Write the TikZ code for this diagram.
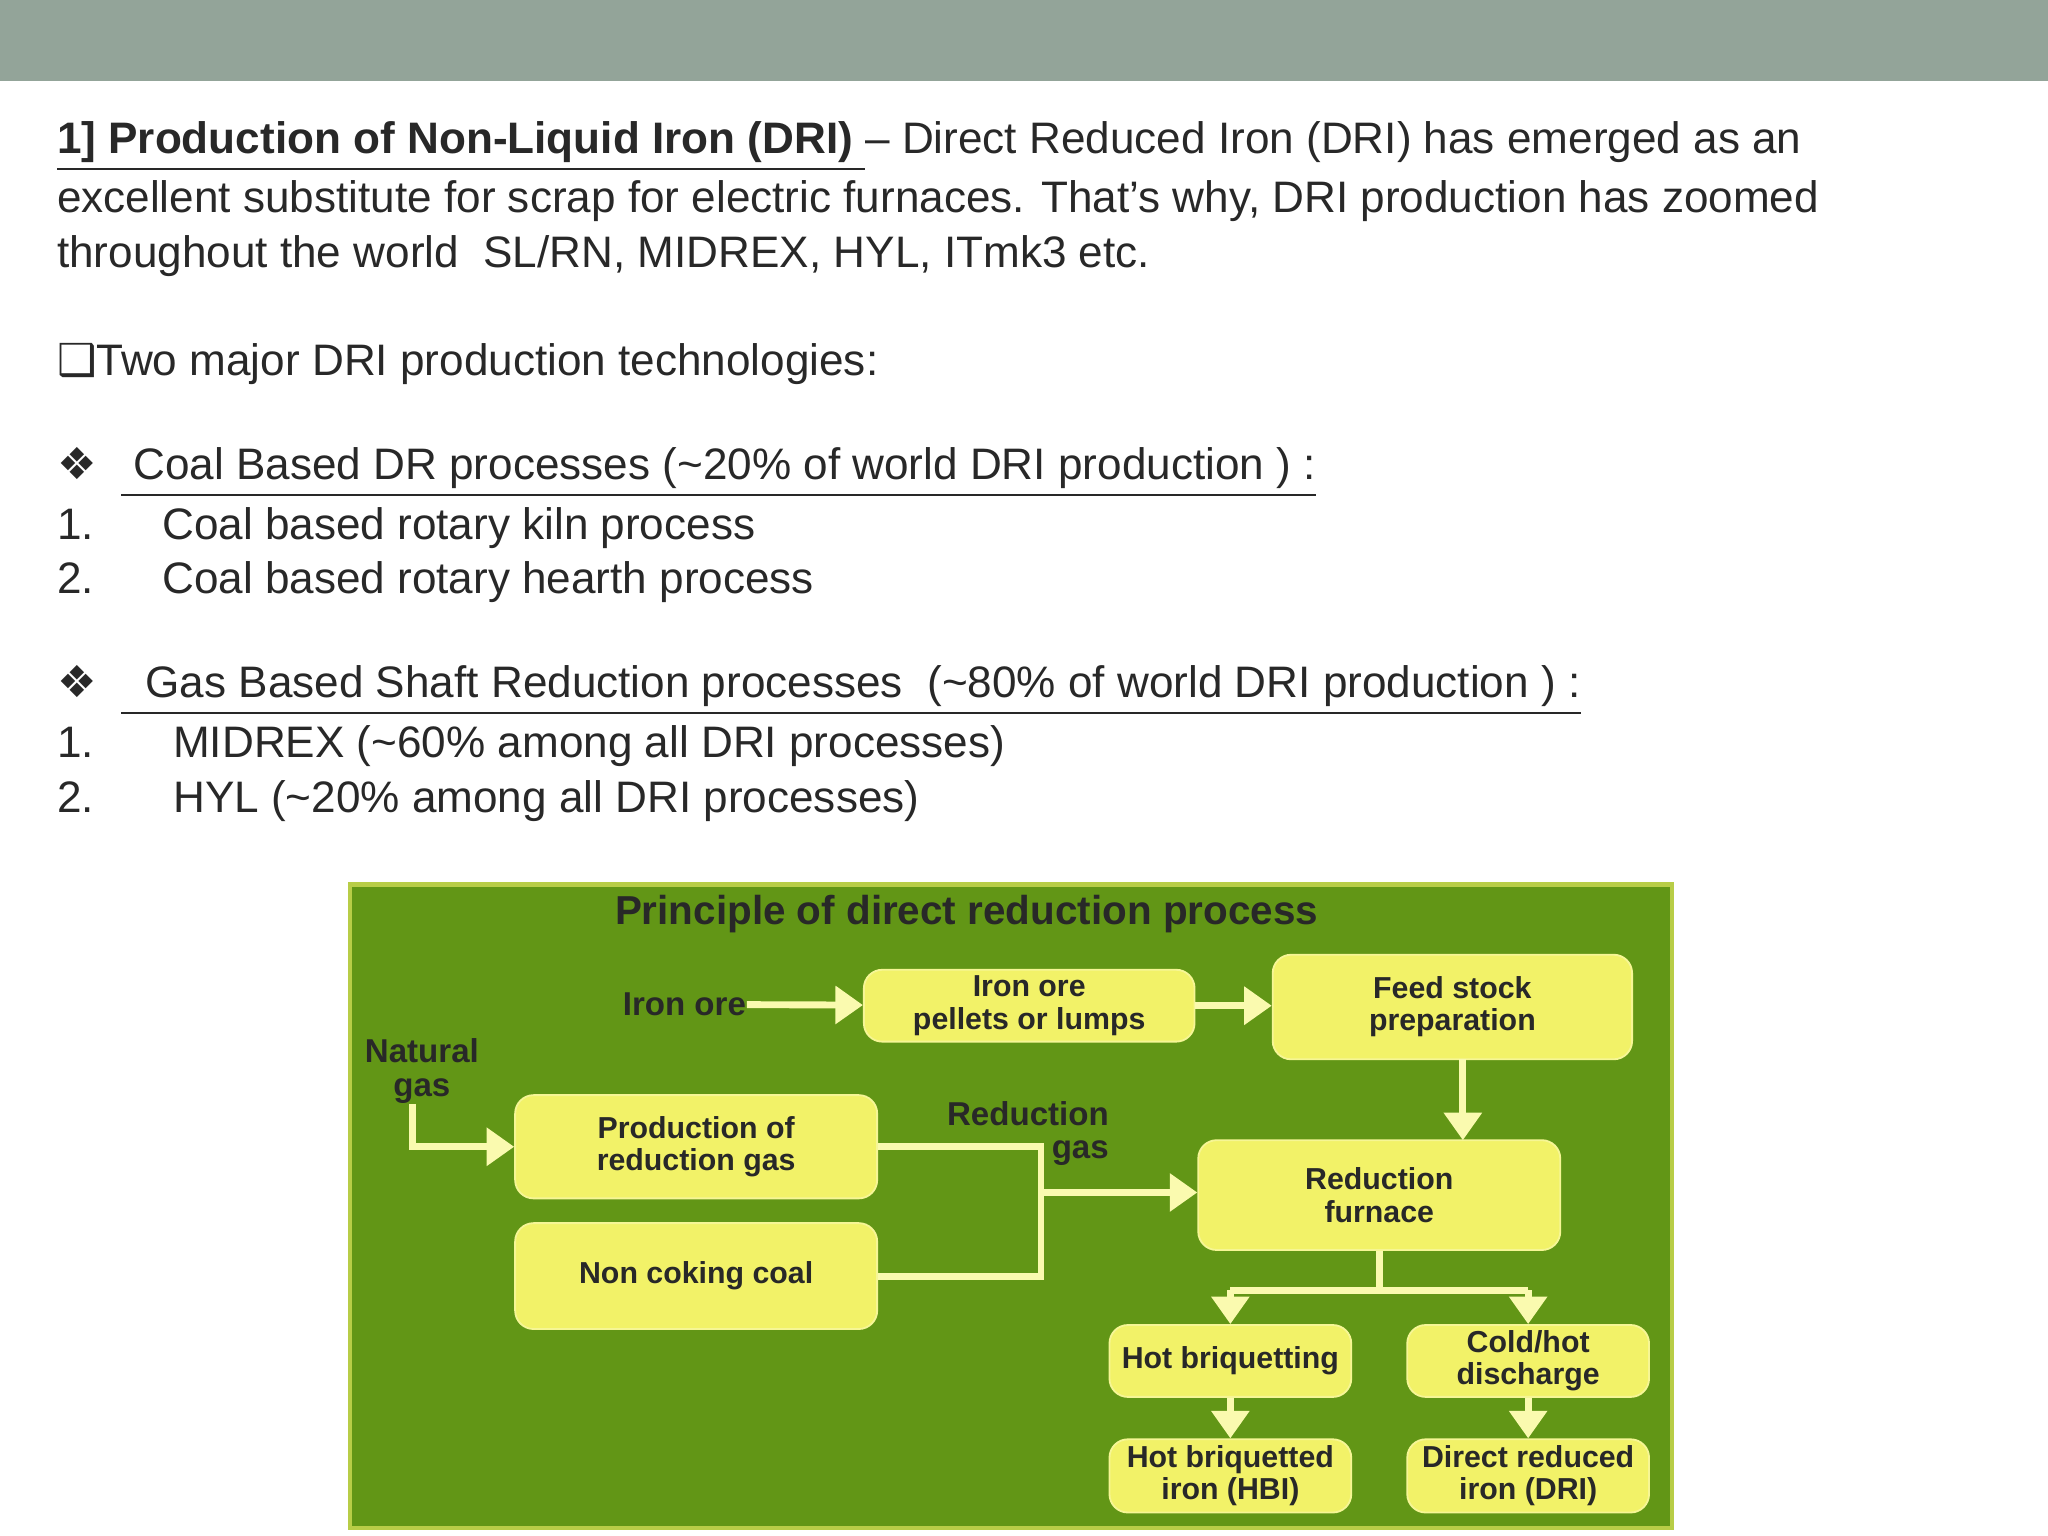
\documentclass[tikz,border=0pt]{standalone}
\usepackage{fontspec}
\setmainfont{Liberation Sans}
\newfontfamily\symfont{DejaVu Sans}
\usetikzlibrary{arrows.meta, positioning}
\definecolor{band}{RGB}{147,164,153}
\definecolor{leaf}{RGB}{98,150,22}
\definecolor{boxy}{RGB}{242,242,104}
\definecolor{flow}{RGB}{250,250,175}
\definecolor{ink}{RGB}{40,40,40}
\tikzset{
  line/.style={anchor=west, font=\fontsize{9.6}{11}\selectfont, text=ink, inner sep=0pt},
  stage/.style={draw=boxy!70!white, fill=boxy, rounded corners=4pt, text=ink, align=center,
    font=\fontsize{6.6}{7}\bfseries\selectfont, inner sep=0pt},
  tag/.style={text=ink, align=center, font=\fontsize{7.2}{7.2}\bfseries\selectfont, inner sep=0pt},
  flw/.style={draw=flow, line width=1.5pt, -{Triangle[length=6pt,width=8pt]}},
  bar/.style={draw=flow, line width=1.5pt}
}
\begin{document}
\begin{tikzpicture}[x=0.01cm, y=-0.01cm]
\useasboundingbox (0,0) rectangle (1568,1176);
\fill[band] (0,0) rectangle (1568,62);

\node[line] (l1) at (43,112) {\textbf{\underline{1] Production of Non-Liquid Iron (DRI) }}– Direct Reduced Iron (DRI) has emerged as an};
\node[line] (l2) at (43,154) {excellent substitute for scrap for electric furnaces. That’s why, DRI production has zoomed};
\node[line] (l3) at (43,196) {throughout the world\ \ SL/RN, MIDREX, HYL, ITmk3 etc.};
\node[line] (l4) at (43,279) {{\symfont ❑}Two major DRI production technologies:};
\node[line] (l5) at (43,362) {{\symfont ❖}\ \ \underline{\ Coal Based DR processes (\textasciitilde20\% of world DRI production ) :}};
\node[line] (l6) at (43,404) {1.\hspace{1.55em}Coal based rotary kiln process};
\node[line] (l7) at (43,446) {2.\hspace{1.55em}Coal based rotary hearth process};
\node[line] (l8) at (43,529) {{\symfont ❖}\ \ \underline{\ \ Gas Based Shaft Reduction processes\ \ (\textasciitilde80\% of world DRI production ) :}};
\node[line] (l9) at (43,571) {1.\hspace{1.8em}MIDREX (\textasciitilde60\% among all DRI processes)};
\node[line] (l10) at (43,613) {2.\hspace{1.8em}HYL (\textasciitilde20\% among all DRI processes)};

% green panel
\draw[fill=leaf, draw=boxy!60!leaf, line width=1pt] (268,677) rectangle (1280,1170);
\node[tag, font=\fontsize{8.8}{9}\bfseries\selectfont] (title) at (740,700) {Principle of direct reduction process};

\node[stage, minimum width=2.53cm, minimum height=0.55cm] (pel) at (788,770) {Iron ore\\pellets or lumps};
\node[stage, minimum width=2.75cm, minimum height=0.8cm] (feed) at (1112,771) {Feed stock\\preparation};
\node[stage, minimum width=2.77cm, minimum height=0.79cm] (prod) at (533,878) {Production of\\reduction gas};
\node[stage, minimum width=2.77cm, minimum height=0.81cm] (coal) at (533,977) {Non coking coal};
\node[stage, minimum width=2.77cm, minimum height=0.84cm] (furn) at (1056,915) {Reduction\\furnace};
\node[stage, minimum width=1.85cm, minimum height=0.55cm] (hbq) at (942,1042) {Hot briquetting};
\node[stage, minimum width=1.85cm, minimum height=0.55cm] (cold) at (1170,1042) {Cold/hot\\discharge};
\node[stage, minimum width=1.85cm, minimum height=0.56cm] (hbi) at (942,1130) {Hot briquetted\\iron (HBI)};
\node[stage, minimum width=1.85cm, minimum height=0.56cm] (dri) at (1170,1130) {Direct reduced\\iron (DRI)};

\node[tag] (ore) at (524,769) {Iron ore};
\node[tag] (ngas) at (323,820) {Natural\\gas};
\node[tag, align=right] (rgas) at (787,868) {Reduction\\gas\hspace{1.9em}};

\coordinate (nbend) at (316,878);
\coordinate (gjoin) at (797,878);
\coordinate (cjoin) at (797,977);
\coordinate (fjoin) at (797,913);
\coordinate (fdown) at (1056,988);
\coordinate (lsplit) at (942,988);
\coordinate (rsplit) at (1170,988);
\coordinate (ftop) at (1120,811);
\coordinate (fbot) at (1120,873);

\draw[flw] (ore) -- (pel);
\draw[flw] (pel) -- (feed.west |- pel);
\draw[flw] (ftop) -- (fbot);
\draw[flw] (ngas.south -| nbend) -- (nbend) -- (prod);
\draw[bar] (prod.east) -- (gjoin) -- (cjoin) -- (coal.east);
\draw[flw] (fjoin) -- (furn.west |- fjoin);
\draw[bar] (furn.south) -- (fdown);
\draw[bar] (lsplit) -- (rsplit);
\draw[flw] (lsplit) -- (hbq);
\draw[flw] (rsplit) -- (cold);
\draw[flw] (hbq) -- (hbi);
\draw[flw] (cold) -- (dri);
\end{tikzpicture}
\end{document}
